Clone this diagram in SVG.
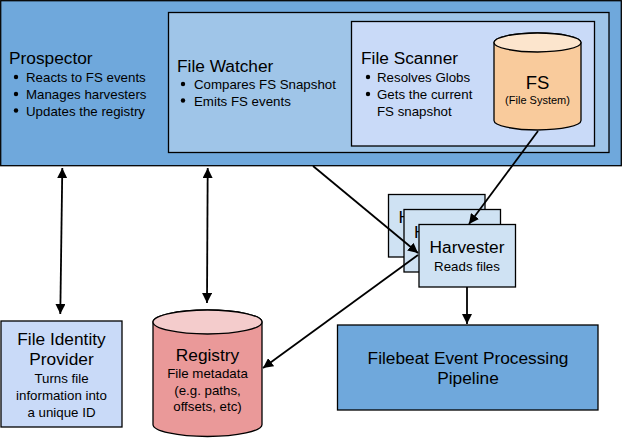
<svg xmlns="http://www.w3.org/2000/svg" width="622" height="438" viewBox="0 0 622 438">
<defs>
<style>
text{font-family:"Liberation Sans",Arial,sans-serif;fill:#000;}
.t{font-size:17.3px;}
.s{font-size:13.3px;}
.xs{font-size:11px;}
.box{stroke:#000;stroke-width:1.3;}
.c{stroke:#000;stroke-width:1.8;fill:none;}
</style>
<marker id="ah" viewBox="0 0 10 10" refX="10" refY="5" markerWidth="10" markerHeight="10" markerUnits="userSpaceOnUse" orient="auto-start-reverse">
<path d="M0,0 L10,5 L0,10 Z" fill="#000"/>
</marker>
</defs>
<rect width="622" height="438" fill="#fff"/>
<g id="prospector">
<rect class="box" x="0.7" y="0.7" width="620.6" height="165" fill="#6fa8dc"/>
<text class="t" x="9" y="64">Prospector</text>
<circle cx="16" cy="77" r="2.2"/><text class="s" x="26" y="82">Reacts to FS events</text>
<circle cx="16" cy="94" r="2.2"/><text class="s" x="26" y="99">Manages harvesters</text>
<circle cx="16" cy="110.5" r="2.2"/><text class="s" x="26" y="115.5">Updates the registry</text>
</g>
<g id="filewatcher">
<rect class="box" x="168.5" y="12.5" width="440.5" height="140" fill="#9fc5e8"/>
<text class="t" x="177" y="72">File Watcher</text>
<circle cx="183" cy="84" r="2.2"/><text class="s" x="194" y="89">Compares FS Snapshot</text>
<circle cx="183" cy="100.5" r="2.2"/><text class="s" x="194" y="105.5">Emits FS events</text>
</g>
<g id="filescanner">
<rect class="box" x="351.5" y="21.5" width="243" height="124.5" fill="#c9daf8"/>
<text class="t" x="361" y="64">File Scanner</text>
<circle cx="368" cy="77" r="2.2"/><text class="s" x="377" y="82">Resolves Globs</text>
<circle cx="368" cy="94" r="2.2"/><text class="s" x="377" y="99">Gets the current</text>
<text class="s" x="377" y="115.5">FS snapshot</text>
</g>
<g id="fs">
<path class="box" d="M494,42.5 A43.5,9.5 0 0 1 581,42.5 L581,120.5 A43.5,9.5 0 0 1 494,120.5 Z" fill="#f9cb9c"/>
<ellipse class="box" cx="537.5" cy="42.5" rx="43.5" ry="9.5" fill="#fce5cd"/>
<text class="t" x="537.5" y="88.5" text-anchor="middle" style="font-size:18.5px">FS</text>
<text class="xs" x="537.5" y="104" text-anchor="middle">(File System)</text>
</g>
<g id="harvester3">
<rect class="box" x="388.5" y="194.5" width="96.5" height="62.5" fill="#cfe2f3"/>
<text class="t" x="398.5" y="223">H</text>
</g>
<g id="harvester2">
<rect class="box" x="404" y="209.5" width="96.5" height="62.5" fill="#cfe2f3"/>
<text class="t" x="414" y="238">H</text>
</g>
<g id="harvester">
<rect class="box" x="419" y="224.5" width="96.5" height="62.5" fill="#cfe2f3"/>
<text class="t" x="467" y="253" text-anchor="middle">Harvester</text>
<text class="s" x="467" y="270.5" text-anchor="middle">Reads files</text>
</g>
<g id="fileidentity">
<rect class="box" x="1" y="321" width="121" height="106" fill="#c9daf8"/>
<text class="t" x="61.5" y="345" text-anchor="middle">File Identity</text>
<text class="t" x="61.5" y="365" text-anchor="middle">Provider</text>
<text class="s" x="61.5" y="382.5" text-anchor="middle">Turns file</text>
<text class="s" x="61.5" y="400" text-anchor="middle">information into</text>
<text class="s" x="61.5" y="417" text-anchor="middle">a unique ID</text>
</g>
<g id="registry">
<path class="box" d="M153,322 A54.5,12 0 0 1 262,322 L262,424.5 A54.5,12 0 0 1 153,424.5 Z" fill="#ea9999"/>
<ellipse class="box" cx="207.5" cy="322" rx="54.5" ry="12" fill="#f4cccc"/>
<text class="t" x="207.5" y="361" text-anchor="middle">Registry</text>
<text class="s" x="207.5" y="377.5" text-anchor="middle">File metadata</text>
<text class="s" x="207.5" y="394.5" text-anchor="middle">(e.g. paths,</text>
<text class="s" x="207.5" y="411" text-anchor="middle">offsets, etc)</text>
</g>
<g id="pipeline">
<rect class="box" x="337.5" y="325" width="260.5" height="85" fill="#6fa8dc"/>
<text class="t" x="468" y="363.5" text-anchor="middle">Filebeat Event Processing</text>
<text class="t" x="468" y="383.5" text-anchor="middle">Pipeline</text>
</g>
<g id="connectors">
<line class="c" x1="313" y1="166" x2="418" y2="253" marker-end="url(#ah)"/>
<line class="c" x1="538" y1="131" x2="469" y2="224" marker-end="url(#ah)"/>
<line class="c" x1="418" y1="255" x2="263" y2="368" marker-end="url(#ah)"/>
<line class="c" x1="467" y1="287" x2="467" y2="324" marker-end="url(#ah)"/>
<line class="c" x1="62.3" y1="168" x2="60.3" y2="314" marker-start="url(#ah)" marker-end="url(#ah)"/>
<line class="c" x1="207.7" y1="168" x2="207" y2="303" marker-start="url(#ah)" marker-end="url(#ah)"/>
</g>
</svg>
